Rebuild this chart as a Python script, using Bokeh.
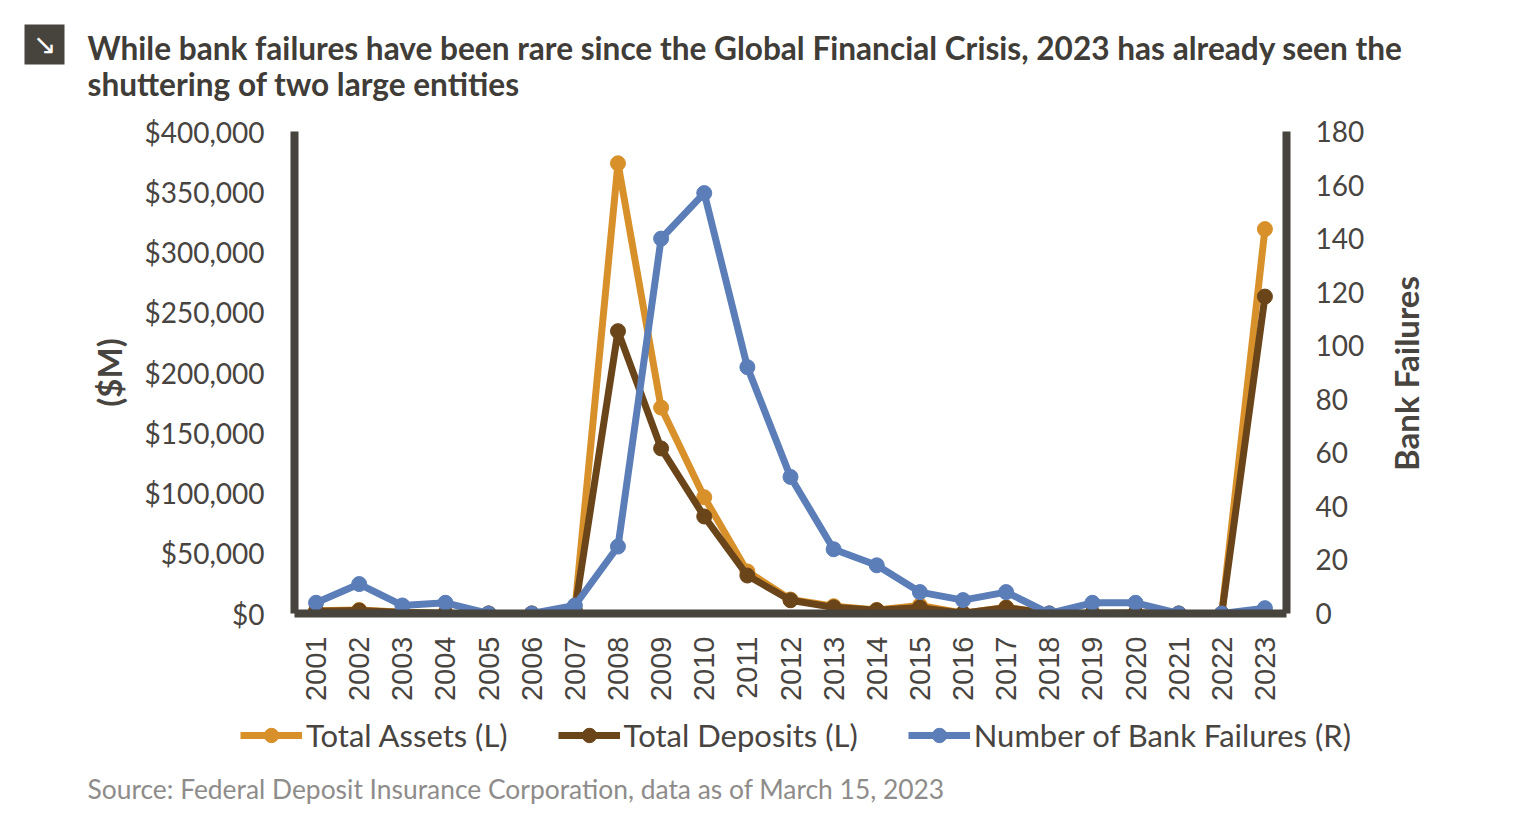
import math
from bokeh.plotting import figure
from bokeh.layouts import row
from bokeh.models import (Range1d, FactorRange, LinearAxis, FixedTicker, NumeralTickFormatter,
                          Label, Legend, LegendItem)
from bokeh.embed import file_html
from bokeh.resources import INLINE

years = [str(y) for y in range(2001, 2024)]
total_assets = [2358, 2875, 1045, 170, 0, 0, 2615, 373589, 170867, 96514, 34923, 11617,
                6044, 2914, 6706, 277, 5082, 0, 209, 458, 0, 0, 319000]
total_deposits = [1800, 2500, 900, 150, 0, 0, 2400, 234321, 137000, 80500, 31500, 11000,
                  5100, 2700, 4900, 200, 4700, 0, 200, 400, 0, 0, 263000]
bank_failures = [4, 11, 3, 4, 0, 0, 3, 25, 140, 157, 92, 51, 24, 18, 8, 5, 8, 0, 4, 4, 0, 0, 2]
left_ticks = list(range(0, 400001, 50000))
right_ticks = list(range(0, 181, 20))
series_names = ["Total Assets (L)", "Total Deposits (L)", "Number of Bank Failures (R)"]

title_lines = ["While bank failures have been rare since the Global Financial Crisis, 2023 has already seen the",
               "shuttering of two large entities"]
source_text = "Source: Federal Deposit Insurance Corporation, data as of March 15, 2023"

C_ASSETS = "#D8912A"
C_DEP = "#6B451A"
C_BLUE = "#5B7DB8"
C_AXIS = "#47433D"
C_TEXT = "#48443F"
C_TITLE = "#403C38"
W = 1536
TOP_H, MAIN_H, FOOT_H = 110, 600, 120
MAIN_W = 1370
FRAME_L, FRAME_R, FRAME_T, FRAME_B = 294, 1286, 131, 613


def blank_fig(w, h, x0, y0, **kw):
    f = figure(width=w, height=h, x_range=Range1d(x0, x0 + w), y_range=Range1d(y0 + h, y0),
               output_backend="svg", toolbar_location=None, x_axis_type=None,
               y_axis_type=None, **kw)
    f.grid.visible = False
    f.outline_line_color = None
    f.background_fill_color = "white"
    f.border_fill_color = "white"
    return f


# ---------- header ----------
top = blank_fig(W, TOP_H, 0, 0, min_border=0)
top.quad(left=[24], right=[64], top=[24], bottom=[64], fill_color=C_AXIS, line_color=None)
top.add_layout(Label(x=44, y=44, text="\u2198", text_font="DejaVu Sans", text_font_size="28px",
                     text_color="white", text_align="center", text_baseline="middle"))
for i, line in enumerate(title_lines):
    top.add_layout(Label(x=87, y=47 + 36 * i, text=line, text_font="Lato", text_font_style="bold",
                         text_font_size="31.6px", text_color=C_TITLE, text_baseline="middle"))

# ---------- main chart ----------
p = figure(width=MAIN_W, height=MAIN_H, x_range=FactorRange(*years, range_padding=0),
           y_range=Range1d(0, 400000), output_backend="svg", toolbar_location=None,
           min_border_left=FRAME_L, min_border_right=MAIN_W - FRAME_R,
           min_border_top=FRAME_T - TOP_H, min_border_bottom=TOP_H + MAIN_H - FRAME_B)
p.extra_y_ranges = {"r": Range1d(0, 180)}
p.outline_line_color = None
p.xgrid.visible = False
p.ygrid.visible = False
p.background_fill_color = "white"
p.border_fill_color = "white"


def style_axis(ax, font, size):
    ax.axis_line_color = C_AXIS
    ax.axis_line_width = 8
    ax.major_tick_line_color = None
    ax.minor_tick_line_color = None
    ax.major_label_text_color = C_TEXT
    ax.major_label_text_font = font
    ax.major_label_text_font_size = size
    ax.axis_label_text_font = "Lato"
    ax.axis_label_text_font_style = "bold"
    ax.axis_label_text_font_size = "33px"
    ax.axis_label_text_color = C_TEXT


yl = p.yaxis[0]
yl.ticker = FixedTicker(ticks=left_ticks)
yl.formatter = NumeralTickFormatter(format="$0,0")
style_axis(yl, "Lato", "28px")
yl.major_label_standoff = 24
yl.axis_label = "($M)"
yl.axis_label_standoff = 12

yr = LinearAxis(y_range_name="r", ticker=FixedTicker(ticks=right_ticks))
style_axis(yr, "Lato", "28px")
yr.major_label_standoff = 23
p.add_layout(yr, "right")

xa = p.xaxis[0]
style_axis(xa, "'Liberation Sans Narrow', 'Liberation Sans', sans-serif", "29px")
xa.major_label_orientation = math.pi / 2
xa.major_label_standoff = 17

p.line(years, total_assets, line_color=C_ASSETS, line_width=7)
p.scatter(years, total_assets, size=15, color=C_ASSETS)
p.line(years, total_deposits, line_color=C_DEP, line_width=7)
p.scatter(years, total_deposits, size=15, color=C_DEP)
p.line(years, bank_failures, line_color=C_BLUE, line_width=7, y_range_name="r")
p.scatter(years, bank_failures, size=15, color=C_BLUE, y_range_name="r")

# right-hand axis title, in its own strip so it is not clipped
side = figure(width=W - MAIN_W, height=MAIN_H, x_range=Range1d(MAIN_W, W),
              y_range=Range1d(FRAME_B, FRAME_T), output_backend="svg", toolbar_location=None,
              x_axis_type=None, y_axis_type=None, min_border_left=0, min_border_right=0,
              min_border_top=FRAME_T - TOP_H, min_border_bottom=TOP_H + MAIN_H - FRAME_B)
side.grid.visible = False
side.outline_line_color = None
side.add_layout(Label(x=1405, y=373, text="Bank Failures", text_font="Lato", text_font_style="bold",
                      text_font_size="33px", text_color=C_TEXT, text_align="center",
                      text_baseline="middle", angle=math.pi / 2))

# ---------- footer (legend + source) ----------
foot = blank_fig(W, FOOT_H, 0, TOP_H + MAIN_H, min_border=0)
items = []
offscreen_x = [-100, -90]
offscreen_y = [-100, -100]
for name, col in zip(series_names, [C_ASSETS, C_DEP, C_BLUE]):
    ln = foot.line(offscreen_x, offscreen_y, line_color=col, line_width=7)
    sc = foot.scatter(offscreen_x[:1], offscreen_y[:1], size=15, color=col)
    items.append(LegendItem(label=name, renderers=[ln, sc]))
legend = Legend(items=items, orientation="horizontal", location=(240, FOOT_H - 44),
                glyph_width=62, glyph_height=36, label_standoff=4, spacing=50,
                padding=0, margin=0, border_line_color=None, background_fill_alpha=0,
                label_text_font="Lato", label_text_font_size="31px", label_text_color=C_TEXT,
                label_height=36)
foot.add_layout(legend, "center")
foot.add_layout(Label(x=87, y=788, text=source_text, text_font="Lato",
                      text_font_size="26.4px", text_color="#8E8C8A", text_baseline="middle"))

open("out.html", "w").write(file_html([top, row(p, side), foot], INLINE))
